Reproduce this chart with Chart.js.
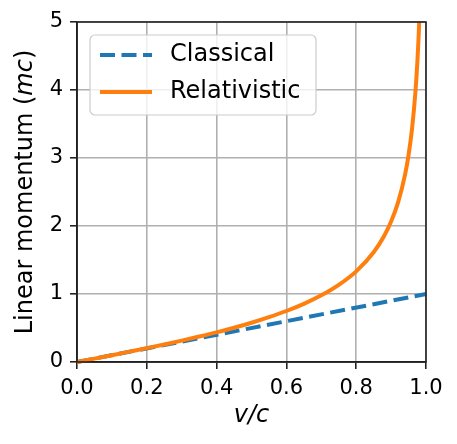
<!DOCTYPE html>
<html>
<head>
<meta charset="utf-8">
<script src="https://cdn.jsdelivr.net/npm/chart.js@4.4.0/dist/chart.umd.min.js"></script>
<style>
html, body { margin: 0; padding: 0; background: #fff; }
</style>
</head>
<body>
<canvas id="chartMomentum" width="457" height="444"></canvas>
<script>
// values (v/c vs p in units of mc)
const speedClassical = [0, 1]
const momentumClassical = [0, 1]
const speedRel = [0, 0.05, 0.1, 0.15, 0.2, 0.25, 0.3, 0.35, 0.4, 0.45, 0.5, 0.55, 0.6, 0.65, 0.7,
    0.75, 0.8, 0.85, 0.88, 0.9, 0.92, 0.94, 0.95, 0.96, 0.97, 0.975, 0.98, 0.985]
const momentumRel = [0, 0.05, 0.1, 0.152, 0.204, 0.258, 0.315, 0.374, 0.436, 0.504, 0.577, 0.659, 0.75, 0.855, 0.98,
    1.134, 1.333, 1.614, 1.853, 2.065, 2.347, 2.755, 3.042, 3.429, 3.99, 4.39, 4.925, 5.71]
const xTicks = [0, 0.2, 0.4, 0.6, 0.8, 1.0]
const yTicks = [0, 1, 2, 3, 4, 5]
const seriesNames = ['Classical', 'Relativistic']

const FONT = 'DejaVu Sans'

function toPoints(xs, ys) {
    return xs.map((x, i) => ({ x: x, y: ys[i] }))
}

// spines, axis titles and the legend inside the axes, matplotlib style
const decorPlugin = {
    id: 'decor',
    afterDatasetsDraw(chart) {
        const ctx = chart.ctx
        const a = chart.chartArea
        ctx.save()
        ctx.strokeStyle = '#222'
        ctx.lineWidth = 1.6
        ctx.strokeRect(a.left, a.top, a.right - a.left, a.bottom - a.top)
        ctx.restore()
    },
    afterDraw(chart) {
        const ctx = chart.ctx
        const a = chart.chartArea
        ctx.save()
        ctx.fillStyle = '#000'
        ctx.textBaseline = 'middle'

        // x title
        ctx.font = 'italic 24px "' + FONT + '"'
        ctx.textAlign = 'center'
        ctx.fillText('v/c', (a.left + a.right) / 2, 416)

        // y title with italic mc
        const parts = [['Linear momentum (', 'normal'], ['mc', 'italic'], [')', 'normal']]
        let total = 0
        parts.forEach(p => {
            ctx.font = p[1] + ' 24px "' + FONT + '"'
            total += ctx.measureText(p[0]).width
        })
        ctx.translate(26, (a.top + a.bottom) / 2)
        ctx.rotate(-Math.PI / 2)
        ctx.textAlign = 'left'
        let cx = -total / 2
        parts.forEach(p => {
            ctx.font = p[1] + ' 24px "' + FONT + '"'
            ctx.fillText(p[0], cx, 0)
            cx += ctx.measureText(p[0]).width
        })
        ctx.restore()

        // legend
        ctx.save()
        const lx = a.left + 13, ly = a.top + 13, lw = 226, lh = 80
        ctx.beginPath()
        ctx.roundRect(lx, ly, lw, lh, 5)
        ctx.fillStyle = 'rgba(255,255,255,0.8)'
        ctx.fill()
        ctx.strokeStyle = '#cccccc'
        ctx.lineWidth = 1.2
        ctx.stroke()
        chart.data.datasets.forEach((ds, i) => {
            const y = ly + 20 + i * 37
            ctx.beginPath()
            ctx.strokeStyle = ds.borderColor
            ctx.lineWidth = ds.borderWidth
            ctx.setLineDash(ds.borderDash || [])
            ctx.moveTo(lx + 10, y)
            ctx.lineTo(lx + 62, y)
            ctx.stroke()
            ctx.setLineDash([])
            ctx.fillStyle = '#000'
            ctx.font = '24px "' + FONT + '"'
            ctx.textAlign = 'left'
            ctx.textBaseline = 'middle'
            ctx.fillText(ds.label, lx + 80, y)
        })
        ctx.restore()
    }
}

new Chart(document.getElementById('chartMomentum'), {
    type: 'line',
    data: {
        datasets: [{
            label: seriesNames[0],
            data: toPoints(speedClassical, momentumClassical),
            borderColor: '#1f77b4',
            borderWidth: 4,
            borderDash: [15, 6.5],
            borderCapStyle: 'butt',
            pointRadius: 0,
            fill: false,
            order: 1,
            clip: { left: 3, right: 3, top: 0, bottom: 3 }
        }, {
            label: seriesNames[1],
            data: toPoints(speedRel, momentumRel),
            borderColor: '#ff7f0e',
            borderWidth: 4,
            pointRadius: 0,
            cubicInterpolationMode: 'monotone',
            fill: false,
            order: 0,
            clip: { left: 3, right: 3, top: 0, bottom: 3 }
        }]
    },
    options: {
        responsive: false,
        animation: false,
        devicePixelRatio: 1,
        layout: { padding: { top: 22, right: 31, left: 0, bottom: 0 } },
        plugins: {
            legend: { display: false },
            tooltip: { enabled: false }
        },
        scales: {
            x: {
                type: 'linear',
                min: 0,
                max: 1,
                afterBuildTicks: scale => { scale.ticks = xTicks.map(v => ({ value: v })) },
                afterFit: scale => { scale.height = 82 },
                ticks: {
                    callback: v => v.toFixed(1),
                    color: '#000',
                    padding: 7,
                    maxRotation: 0,
                    font: { family: FONT, size: 21 }
                },
                grid: { color: '#b0b0b0', lineWidth: 1.6, tickLength: 7, tickColor: '#222', tickWidth: 1.6 },
                border: { display: true, color: '#222', width: 1.6 }
            },
            y: {
                type: 'linear',
                min: 0,
                max: 5,
                afterBuildTicks: scale => { scale.ticks = yTicks.map(v => ({ value: v })) },
                afterFit: scale => { scale.width = 77 },
                ticks: {
                    color: '#000',
                    padding: 7,
                    font: { family: FONT, size: 21 }
                },
                grid: { color: '#b0b0b0', lineWidth: 1.6, tickLength: 7, tickColor: '#222', tickWidth: 1.6 },
                border: { display: true, color: '#222', width: 1.6 }
            }
        }
    },
    plugins: [decorPlugin]
})
</script>
</body>
</html>
